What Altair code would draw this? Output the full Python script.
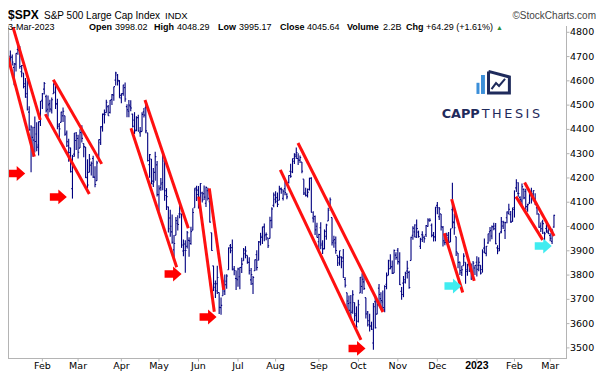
import altair as alt
import pandas as pd

# ---------------- data (daily OHLC, S&P 500, 5-Jan-2022 .. 3-Mar-2023) ----------------
holidays = ["2022-01-17", "2022-02-21", "2022-04-15", "2022-05-30", "2022-06-20", "2022-07-04",
            "2022-09-05", "2022-11-24", "2022-12-26", "2023-01-02", "2023-01-16", "2023-02-20"]

opens = [
    4788, 4693, 4698, 4655, 4669, 4729, 4734, 4638, 4632, 4588, 4547, 4471, 4356, 4367, 4408, 4381, 4336, 4432,
    4520, 4566, 4535, 4483, 4506, 4480, 4547, 4553, 4506, 4413, 4429, 4456, 4456, 4385, 4333, 4324, 4156, 4298, 4354,
    4363, 4323, 4401, 4342, 4327, 4203, 4223, 4253, 4280, 4203, 4189, 4288, 4345, 4407, 4462, 4469, 4493, 4470, 4523, 4541, 4603, 4624, 4599,
    4540, 4548, 4572, 4494, 4475, 4494, 4463, 4438, 4394, 4449, 4386, 4391, 4472, 4489, 4386, 4255, 4278, 4187, 4223, 4254,
    4131, 4160, 4181, 4270, 4128, 4081, 4035, 3978, 3904, 3964, 4013, 4052, 4052, 3899, 3928, 3919, 3943, 3930, 3985, 4077, 4151,
    4150, 4095, 4138, 4135, 4096, 4147, 4102, 3974, 3838, 3764, 3764, 3728, 3666, 3715, 3734, 3775, 3822, 3921, 3913, 3825, 3786,
    3781, 3793, 3832, 3859, 3888, 3881, 3852, 3780, 3764, 3818, 3884, 3861, 3935, 3955, 3998, 3966, 3953, 3951, 4026, 4087,
    4112, 4104, 4108, 4155, 4116, 4156, 4133, 4181, 4227, 4225, 4269, 4290, 4280, 4273, 4266, 4195, 4133, 4127, 4153, 4199, 4035, 4041, 4001,
    3937, 3995, 3931, 3909, 3960, 4023, 4084, 4037, 3941, 3932, 3881, 3850, 3875, 3871, 3782, 3727, 3683, 3686, 3652, 3687, 3633,
    3610, 3726, 3753, 3772, 3707, 3648, 3596, 3591, 3520, 3690, 3639, 3746, 3703, 3689, 3657, 3762, 3799, 3826, 3835, 3808, 3882,
    3902, 3853, 3733, 3767, 3781, 3817, 3811, 3860, 3964, 3978, 4006, 3977, 3919, 3966, 3956, 3966, 4000, 4023, 4005, 3964, 3957,
    4087, 4040, 4052, 3997, 3933, 3948, 3954, 3939, 4069, 4016, 3958, 3891, 3854, 3810, 3839, 3853, 3815, 3843, 3830, 3805, 3829,
    3853, 3840, 3840, 3823, 3911, 3889, 3932, 3978, 3961, 3999, 4002, 3912, 3909, 3978, 4002, 3983, 4036, 4054, 4049, 4021,
    4070, 4159, 4137, 4120, 4105, 4153, 4144, 4069, 4097, 4127, 4120, 4115, 4077, 4052, 4002, 4019, 3973, 3992, 3977,
    3963, 3939, 3998,
]
highs = [
    4798, 4725, 4708, 4673, 4714, 4749, 4744, 4665, 4632, 4612, 4602, 4495, 4417, 4411, 4453, 4429, 4433, 4517,
    4550, 4595, 4543, 4540, 4522, 4531, 4590, 4589, 4526, 4426, 4473, 4490, 4456, 4395, 4362, 4324, 4295, 4385, 4389,
    4378, 4401, 4417, 4342, 4327, 4277, 4299, 4268, 4291, 4248, 4271, 4358, 4413, 4465, 4482, 4522, 4501, 4521, 4546, 4576, 4637, 4628, 4603,
    4549, 4584, 4593, 4504, 4521, 4520, 4464, 4471, 4454, 4460, 4410, 4471, 4488, 4513, 4386, 4299, 4278, 4241, 4308, 4270,
    4170, 4200, 4308, 4270, 4158, 4081, 4069, 4049, 3965, 4039, 4046, 4091, 4052, 3946, 3943, 3982, 3956, 3999, 4075, 4158, 4168,
    4167, 4178, 4143, 4169, 4165, 4160, 4119, 3974, 3838, 3778, 3838, 3728, 3708, 3780, 3802, 3803, 3914, 3928, 3946, 3837, 3819,
    3830, 3832, 3871, 3911, 3919, 3881, 3873, 3829, 3796, 3864, 3902, 3940, 3974, 3999, 4012, 3975, 3953, 4040, 4079, 4140,
    4145, 4140, 4168, 4161, 4152, 4187, 4137, 4211, 4258, 4280, 4302, 4325, 4302, 4293, 4266, 4195, 4160, 4157, 4201, 4203, 4063, 4045, 4015,
    3970, 4018, 3943, 3988, 4011, 4077, 4119, 4037, 3962, 3959, 3881, 3900, 3876, 3907, 3791, 3727, 3716, 3718, 3737, 3687, 3671,
    3698, 3792, 3807, 3798, 3707, 3652, 3641, 3608, 3685, 3712, 3690, 3763, 3729, 3736, 3758, 3811, 3863, 3886, 3860, 3905, 3894,
    3912, 3894, 3751, 3796, 3814, 3859, 3818, 3958, 4001, 4009, 4029, 3983, 3954, 3980, 3962, 4006, 4034, 4034, 4012, 3977, 4080,
    4101, 4080, 4052, 4002, 3958, 3974, 3977, 3991, 4180, 4054, 3958, 3891, 3855, 3838, 3890, 3853, 3846, 3847, 3848, 3858, 3840,
    3878, 3873, 3840, 3906, 3951, 3920, 3970, 3998, 4004, 4015, 4014, 3923, 3973, 4039, 4024, 4020, 4062, 4094, 4064, 4077,
    4149, 4195, 4182, 4125, 4177, 4157, 4156, 4094, 4139, 4160, 4148, 4137, 4082, 4052, 4017, 4028, 3978, 4018, 3998,
    3972, 3991, 4048,
]
lows = [
    4699, 4671, 4663, 4582, 4638, 4707, 4650, 4615, 4569, 4530, 4478, 4395, 4223, 4287, 4305, 4310, 4292, 4414,
    4484, 4544, 4470, 4452, 4471, 4465, 4547, 4484, 4401, 4365, 4429, 4430, 4374, 4327, 4267, 4222, 4115, 4287, 4315,
    4280, 4323, 4346, 4285, 4200, 4158, 4223, 4210, 4200, 4162, 4188, 4268, 4336, 4391, 4424, 4469, 4456, 4465, 4501, 4518, 4581, 4581, 4530,
    4508, 4539, 4514, 4450, 4450, 4475, 4408, 4381, 4393, 4391, 4370, 4391, 4449, 4384, 4268, 4201, 4175, 4163, 4189, 4124,
    4063, 4147, 4149, 4106, 4068, 3975, 3958, 3929, 3859, 3964, 3984, 4034, 3912, 3877, 3810, 3909, 3875, 3925, 3985, 4077, 4105,
    4074, 4074, 4099, 4109, 4080, 4107, 4017, 3900, 3734, 3706, 3722, 3640, 3637, 3715, 3718, 3744, 3822, 3890, 3820, 3799, 3739,
    3752, 3742, 3809, 3859, 3869, 3847, 3802, 3759, 3722, 3817, 3819, 3861, 3922, 3928, 3939, 3943, 3911, 3951, 3993, 4079,
    4096, 4080, 4108, 4135, 4107, 4129, 4112, 4177, 4201, 4220, 4257, 4278, 4253, 4262, 4219, 4130, 4124, 4120, 4148, 4058, 4017, 3965, 3955,
    3904, 3906, 3887, 3906, 3945, 4023, 4084, 3922, 3913, 3888, 3837, 3839, 3828, 3789, 3749, 3647, 3645, 3623, 3641, 3610, 3584,
    3605, 3726, 3723, 3739, 3621, 3588, 3568, 3574, 3492, 3580, 3639, 3687, 3667, 3656, 3647, 3742, 3799, 3824, 3804, 3808, 3863,
    3844, 3759, 3698, 3709, 3765, 3786, 3744, 3860, 3945, 3956, 3953, 3954, 3907, 3936, 3933, 3957, 3999, 4021, 3956, 3938, 3939,
    4051, 4027, 3984, 3918, 3923, 3936, 3933, 3935, 3993, 3966, 3879, 3828, 3800, 3796, 3839, 3764, 3797, 3813, 3781, 3805, 3800,
    3794, 3816, 3802, 3810, 3890, 3877, 3929, 3938, 3948, 3985, 3927, 3886, 3898, 3972, 3990, 3949, 4013, 4049, 4016, 4020,
    4037, 4142, 4123, 4093, 4088, 4112, 4070, 4061, 4093, 4095, 4104, 4089, 4048, 3995, 3977, 3969, 3943, 3974, 3969,
    3939, 3928, 3995,
]
closes = [
    4701, 4696, 4677, 4670, 4713, 4726, 4659, 4663, 4577, 4533, 4483, 4398, 4410, 4356, 4350, 4327, 4432, 4516,
    4547, 4589, 4477, 4501, 4484, 4522, 4587, 4504, 4419, 4402, 4471, 4475, 4380, 4349, 4305, 4226, 4289, 4385, 4374,
    4306, 4387, 4363, 4329, 4201, 4171, 4278, 4260, 4204, 4173, 4262, 4358, 4412, 4463, 4461, 4512, 4456, 4520, 4543, 4576, 4632, 4602, 4530,
    4546, 4583, 4525, 4481, 4500, 4488, 4413, 4397, 4447, 4393, 4392, 4462, 4459, 4394, 4272, 4296, 4175, 4184, 4288, 4132,
    4155, 4175, 4300, 4147, 4123, 3991, 4001, 3935, 3930, 4024, 4008, 4089, 3924, 3901, 3901, 3974, 3941, 3979, 4058, 4158, 4132,
    4101, 4177, 4109, 4121, 4161, 4116, 4018, 3901, 3750, 3735, 3790, 3667, 3675, 3765, 3760, 3796, 3912, 3900, 3822, 3819, 3785,
    3825, 3831, 3845, 3903, 3899, 3854, 3819, 3802, 3790, 3863, 3831, 3937, 3960, 3999, 3962, 3967, 3921, 4024, 4072, 4130,
    4119, 4091, 4155, 4152, 4145, 4140, 4122, 4210, 4207, 4280, 4297, 4305, 4274, 4284, 4228, 4138, 4129, 4141, 4199, 4058, 4031, 3986, 3955,
    3967, 3924, 3908, 3980, 4006, 4067, 4110, 3933, 3946, 3901, 3873, 3900, 3856, 3790, 3758, 3693, 3655, 3647, 3719, 3640, 3586,
    3678, 3791, 3783, 3745, 3640, 3612, 3589, 3577, 3670, 3583, 3678, 3720, 3695, 3666, 3753, 3797, 3859, 3831, 3807, 3901, 3872,
    3856, 3760, 3720, 3771, 3807, 3828, 3749, 3956, 3993, 3957, 3992, 3959, 3947, 3965, 3950, 4004, 4027, 4026, 3964, 3958, 4080,
    4077, 4072, 3999, 3941, 3934, 3964, 3934, 3991, 4020, 3995, 3896, 3852, 3818, 3822, 3878, 3822, 3845, 3829, 3783, 3849, 3840,
    3824, 3853, 3808, 3895, 3892, 3919, 3970, 3983, 3999, 3991, 3929, 3899, 3973, 4020, 4017, 4016, 4060, 4071, 4018, 4077,
    4119, 4180, 4136, 4111, 4164, 4118, 4082, 4090, 4137, 4136, 4148, 4090, 4079, 3997, 3991, 4012, 3970, 3982, 3970,
    3951, 3981, 4046,
]

# y-axis tick values
y_ticks = [3500, 3600, 3700, 3800, 3900, 4000, 4100, 4200, 4300, 4400, 4500, 4600, 4700, 4800]

# trend channels drawn on the chart: (bar index, price) start -> end
trend_x1 = [-2.55, 2.39, 19.56, 23.82, 65.13, 72.57, 101.12, 106.75, 153.91, 144.5, 235.6, 231.7, 274.4, 269.8]
trend_y1 = [4765, 4821, 4463, 4604, 4405, 4521, 4123, 4157, 4344, 4233, 4113, 3972, 4181, 4123]
trend_x2 = [13.72, 16.9, 42.96, 49.55, 89.42, 95.59, 109.41, 114.41, 199.1, 187.4, 247.6, 241.5, 290.1, 284.0]
trend_y2 = [4288, 4439, 4134, 4258, 3832, 3993, 3649, 3739, 3648, 3533, 3776, 3728, 3961, 3945]

# arrow markers (bar index, price, colour group)
arrow_x = [4.36, 26.5, 87.5, 106.1, 185.3, 236.3, 284.3]
arrow_y = [4218, 4122, 3804, 3627, 3498, 3755, 3920]
arrow_kind = ["red", "red", "red", "red", "red", "cyan", "cyan"]

# ---------------- frames ----------------
days = [d for d in pd.bdate_range("2022-01-05", "2023-03-03") if d.strftime("%Y-%m-%d") not in holidays]
n = min(len(days), len(opens))
df = pd.DataFrame({"i": list(range(n)), "o": opens[:n], "h": highs[:n], "l": lows[:n], "c": closes[:n]})
df["il"] = df["i"] - 0.6
df["ir"] = df["i"] + 0.6

tick_idx, tick_lab = [], []
prev = None
for k, d in enumerate(days[:n]):
    key = (d.year, d.month)
    if prev is not None and key != prev:
        tick_idx.append(k)
        tick_lab.append(str(d.year) if d.month == 1 else d.strftime("%b"))
    prev = key
xt_df = pd.DataFrame({"i": tick_idx, "t": tick_lab})
xt_month = xt_df[~xt_df["t"].str.isdigit()]
xt_year = xt_df[xt_df["t"].str.isdigit()]
yt_df = pd.DataFrame({"v": y_ticks})

trend_df = pd.DataFrame({"x1": trend_x1, "y1": trend_y1, "x2": trend_x2, "y2": trend_y2})
arrow_df = pd.DataFrame({"x": arrow_x, "y": arrow_y, "kind": arrow_kind})

NAVY = "#00007f"
GRAY = "#b4b4b4"
LOGO = "#1f2b5c"
FONT = "DejaVu Sans"
W, H = 558, 332

xs = alt.Scale(domain=[-0.266, 296.4], nice=False, zero=False, padding=0)
ys = alt.Scale(domain=[3458.4, 4825.9], nice=False, zero=False, padding=0)

def X(f):
    return alt.X(f, scale=xs, axis=None)

def Y(f):
    return alt.Y(f, scale=ys, axis=None)

base = alt.Chart(df)
hl = base.mark_rule(color=NAVY, strokeWidth=1.1).encode(x=X("i:Q"), y=Y("l:Q"), y2="h:Q")
op = base.mark_rule(color=NAVY, strokeWidth=1.1).encode(x=X("il:Q"), x2="i:Q", y=Y("o:Q"))
cl = base.mark_rule(color=NAVY, strokeWidth=1.1).encode(x=X("i:Q"), x2="ir:Q", y=Y("c:Q"))

# ---- hand-built axes (frame on left/bottom/right, ticks and labels) ----
one = pd.DataFrame({"a": [0]})
left_border = alt.Chart(one).mark_rule(color=GRAY, strokeWidth=1).encode(
    x=alt.value(0.5), y=alt.value(0), y2=alt.value(H + 0.5))
right_border = alt.Chart(one).mark_rule(color=GRAY, strokeWidth=1).encode(
    x=alt.value(W + 0.5), y=alt.value(0), y2=alt.value(H + 0.5))
bottom_border = alt.Chart(one).mark_rule(color=GRAY, strokeWidth=1).encode(
    x=alt.value(0), x2=alt.value(W + 1), y=alt.value(H + 0.5))
xticks = alt.Chart(xt_df).mark_rule(color=GRAY, strokeWidth=1).encode(
    x=X("i:Q"), y=alt.value(H + 0.5), y2=alt.value(H + 3.5))
xlab_m = alt.Chart(xt_month).mark_text(align="center", baseline="alphabetic", font=FONT, fontSize=9.5,
                                       color="#000000").encode(x=X("i:Q"), y=alt.value(H + 10.5), text="t:N")
xlab_y = alt.Chart(xt_year).mark_text(align="center", baseline="alphabetic", font="Liberation Sans", fontSize=10.5,
                                      fontWeight="bold", color="#000000").encode(
    x=X("i:Q"), y=alt.value(H + 10.5), text="t:N")
yticks = alt.Chart(yt_df).mark_rule(color=GRAY, strokeWidth=1).encode(
    y=Y("v:Q"), x=alt.value(W + 0.5), x2=alt.value(W + 3.5))
ylab = alt.Chart(yt_df).mark_text(align="left", baseline="middle", font=FONT, fontSize=9.5,
                                  color="#000000").encode(y=Y("v:Q"), x=alt.value(W + 4), text=alt.Text("v:Q", format="d"))

trend = alt.Chart(trend_df).mark_rule(color="#ff1010", strokeWidth=3).encode(
    x=X("x1:Q"), y=Y("y1:Q"), x2="x2:Q", y2="y2:Q")

ARROW = "M-1,-0.44 L0,-0.44 L0,-0.88 L1,0 L0,0.88 L0,0.44 L-1,0.44 Z"
arrows = alt.Chart(arrow_df).mark_point(shape=ARROW, filled=True, size=289, opacity=1, strokeWidth=0).encode(
    x=X("x:Q"), y=Y("y:Q"),
    color=alt.Color("kind:N", scale=alt.Scale(domain=["red", "cyan"], range=["#ff0000", "#40ecf0"]), legend=None))

# logo (CAPP THESIS) placed in chart units
logo_bar_x1 = [248.8, 251.2]
logo_bar_x2 = [250.4, 253.3]
logo_bar_y1 = [4546, 4546]
logo_bar_y2 = [4592, 4624]
logo_bars = alt.Chart(pd.DataFrame({"x1": logo_bar_x1, "x2": logo_bar_x2, "y1": logo_bar_y1, "y2": logo_bar_y2})).mark_rect(
    color="#3b8fd9").encode(x=X("x1:Q"), x2="x2:Q", y=Y("y1:Q"), y2="y2:Q")
frame_x = [255.2, 266.3, 266.3, 255.2, 255.2]
frame_y = [4639, 4616, 4550, 4550, 4639]
logo_frame = alt.Chart(pd.DataFrame({"x": frame_x, "y": frame_y, "k": list(range(5))})).mark_line(
    color=LOGO, strokeWidth=3, strokeJoin="miter").encode(x=X("x:Q"), y=Y("y:Q"), order="k:Q")
zig_x = [256.8, 259.2, 260.8, 264.0]
zig_y = [4566, 4591, 4579, 4608]
logo_zig = alt.Chart(pd.DataFrame({"x": zig_x, "y": zig_y, "k": list(range(4))})).mark_line(
    color=LOGO, strokeWidth=2).encode(x=X("x:Q"), y=Y("y:Q"), order="k:Q")
TS = "\u2009"
logo_txt_layers = []
for t, xv, w in [("CAPP", 230.3, "bold"), (TS.join("THESIS"), 251.6, "normal")]:
    logo_txt_layers.append(
        alt.Chart(pd.DataFrame({"x": [xv], "y": [4446], "t": [t]})).mark_text(
            align="left", baseline="alphabetic", font=FONT, fontSize=12.8, fontWeight=w, color=LOGO).encode(
            x=X("x:Q"), y=Y("y:Q"), text="t:N"))

HF = "Liberation Sans"
R1, R2 = -7.1, 3.6
header = [
    ("$SPX", 0, R1, 12, "bold", "#000000", "left"),
    ("S&P 500 Large Cap Index", 36, R1, 10, "normal", "#000000", "left"),
    ("INDX", 157, R1, 9.5, "normal", "#000000", "left"),
    ("\u00a9StockCharts.com", 588, R1, 10, "normal", "#444444", "right"),
    ("3-Mar-2023", 0, R2, 9, "normal", "#000000", "left"),
    ("Open", 81, R2, 9, "bold", "#000000", "left"),
    ("3998.02", 107, R2, 9, "normal", "#000000", "left"),
    ("High", 146, R2, 9, "bold", "#000000", "left"),
    ("4048.29", 169, R2, 9, "normal", "#000000", "left"),
    ("Low", 210, R2, 9, "bold", "#000000", "left"),
    ("3995.17", 231, R2, 9, "normal", "#000000", "left"),
    ("Close", 272, R2, 9, "bold", "#000000", "left"),
    ("4045.64", 299, R2, 9, "normal", "#000000", "left"),
    ("Volume", 339, R2, 9, "bold", "#000000", "left"),
    ("2.2B", 375, R2, 9, "normal", "#000000", "left"),
    ("Chg", 398, R2, 9, "bold", "#000000", "left"),
    ("+64.29 (+1.61%)", 418, R2, 9, "normal", "#000000", "left"),
    ("\u25b2", 488, R2, 7, "normal", "#2e8b3a", "left"),
]
header_layers = []
for t, hx, hy, fs, fw, col, al in header:
    header_layers.append(
        alt.Chart(one).mark_text(align=al, baseline="alphabetic", font=HF, fontSize=fs, fontWeight=fw, color=col)
        .encode(x=alt.value(hx), y=alt.value(hy), text=alt.value(t)))

chart = alt.layer(
    hl, op, cl, trend, arrows, logo_bars, logo_frame, logo_zig, *logo_txt_layers,
    left_border, right_border, bottom_border, xticks, xlab_m, xlab_y, yticks, ylab,
    *header_layers
).properties(
    width=W, height=H,
    padding={"left": 0, "top": 18, "right": 30, "bottom": 17},
    autosize=alt.AutoSizeParams(type="none"),
    background="#ffffff",
).configure_view(stroke=None)

chart.save("out.html", embed_options={"renderer": "svg", "actions": False})
